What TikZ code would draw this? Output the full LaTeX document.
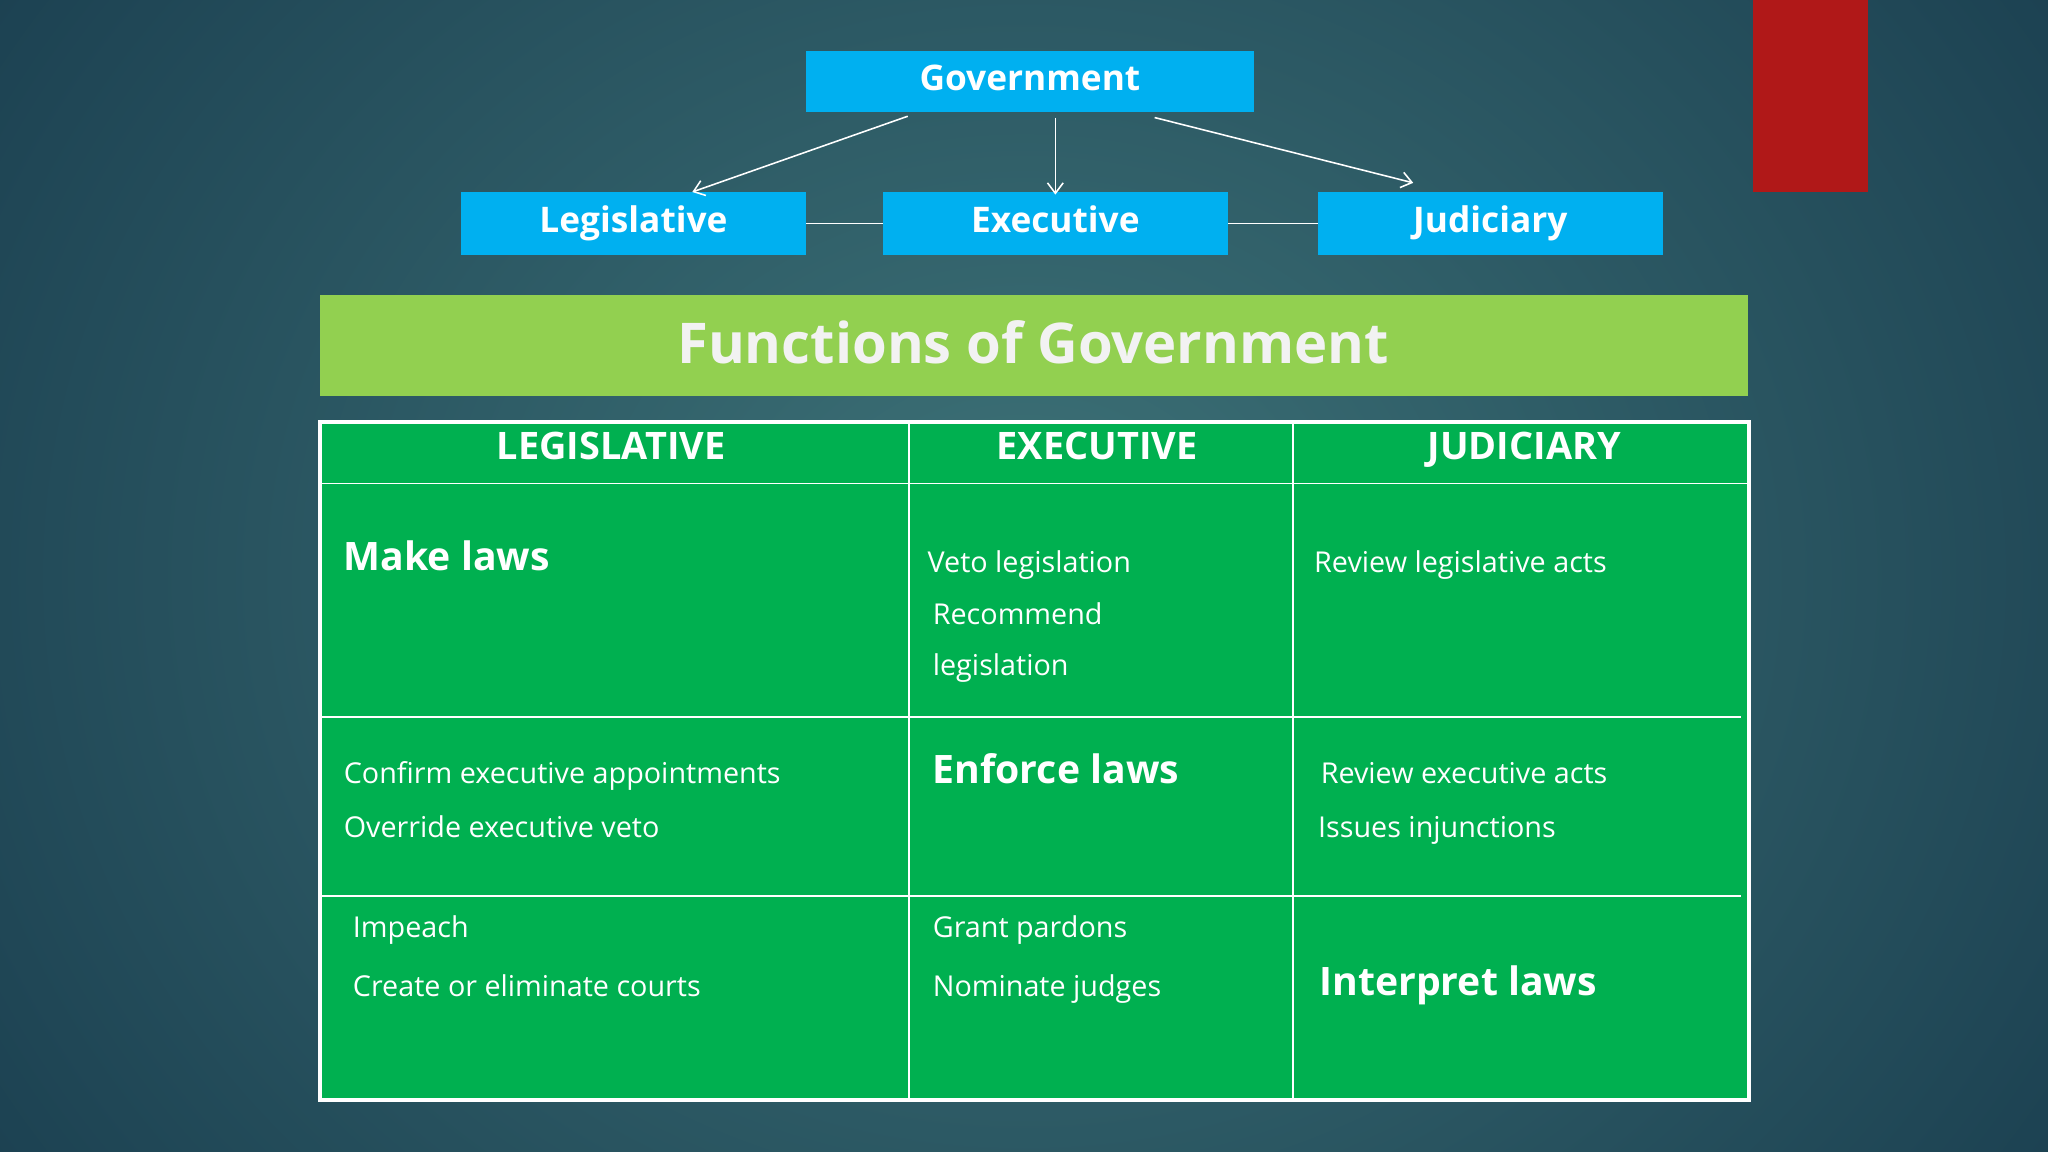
\documentclass[tikz,border=0pt]{standalone}
\usepackage{fontspec}
\setmainfont{Open Sans}
\usetikzlibrary{arrows.meta}
\definecolor{bgc}{HTML}{3E7378}
\definecolor{bge}{HTML}{173A4C}
\definecolor{blu}{HTML}{00B0F0}
\definecolor{lgr}{HTML}{92D050}
\definecolor{tgr}{HTML}{00B050}
\definecolor{red}{HTML}{B01818}
\tikzset{
 bbox/.style={fill=blu,text=white,font=\bfseries\fontsize{27}{30}\selectfont,inner sep=0,text height=18pt,text depth=4pt},
 hdr/.style={text=white,font=\fontsize{29}{32}\selectfont\bfseries,anchor=center,text height=20pt,text depth=4pt},
 cell/.style={text=white,font=\fontsize{22}{24}\selectfont,anchor=west,inner sep=0,text height=15pt,text depth=3pt},
 big/.style={text=white,font=\fontsize{30}{32}\selectfont\bfseries,anchor=west,inner sep=0,text height=20pt,text depth=4pt},
 conn/.style={white,line width=1.2pt,-{Straight Barb[length=8pt,width=12pt]}},
 grid/.style={white,line width=1pt}
}
\begin{document}
\begin{tikzpicture}[x=1pt,y=-1pt]
\useasboundingbox (0,0) rectangle (1568,882);
\begin{scope}
\clip (0,0) rectangle (1568,882);
\shade[inner color=bgc,outer color=bge] (-300,-500) rectangle (1868,1382);
\end{scope}
\fill[red] (1342,0) rectangle (1430,147);
\node[bbox,minimum width=343,minimum height=47] (gov) at (788.5,62.5) {Government};
\node[bbox,minimum width=264,minimum height=48] (leg) at (485,171) {Legislative};
\node[bbox,minimum width=264,minimum height=48] (exe) at (808,171) {Executive};
\node[bbox,minimum width=264,minimum height=48] (jud) at (1141,171) {Judiciary};
\draw[grid] (leg.east) -- (exe.west);
\draw[grid] (exe.east) -- (jud.west);
\coordinate (a1) at (695,89); \coordinate (a2) at (530,147);
\coordinate (b1) at (808,90); \coordinate (b2) at (808,149);
\coordinate (c1) at (884,90); \coordinate (c2) at (1082,140);
\draw[conn] (a1) -- (a2);
\draw[conn] (b1) -- (b2);
\draw[conn] (c1) -- (c2);
\fill[lgr] (245,226) rectangle (1338,303);
\node[text=white!90!gray,font=\fontsize{43}{46}\selectfont\bfseries] (title) at (791,262) {Functions of Government};
\fill[tgr] (245,323) rectangle (1339,842);
\draw[grid] (696,323) -- (696,842) (990,323) -- (990,842);
\draw[grid] (245,370) -- (1339,370);
\draw[grid] (245,549) -- (1333,549) (245,686) -- (1333,686);
\draw[white,line width=3pt] (245,323) rectangle (1339,842);
\node[hdr] (h1) at (468,344) {LEGISLATIVE};
\node[hdr] (h2) at (840,344) {EXECUTIVE};
\node[hdr] (h3) at (1167,344) {JUDICIARY};
\node[big] (t1) at (263,429) {Make laws};
\node[cell] (t2) at (710,432) {Veto legislation};
\node[cell] (t3) at (714,472) {Recommend};
\node[cell] (t4) at (714,511) {legislation};
\node[cell] (t5) at (1006,432) {Review legislative acts};
\node[cell] (t6) at (263,594) {Confirm executive appointments};
\node[cell] (t7) at (263,635) {Override executive veto};
\node[big] (t8) at (714,592) {Enforce laws};
\node[cell] (t9) at (1011,594) {Review executive acts};
\node[cell] (t10) at (1009,635) {Issues injunctions};
\node[cell] (t11) at (270,712) {Impeach};
\node[cell] (t12) at (270,757) {Create or eliminate courts};
\node[cell] (t13) at (714,712) {Grant pardons};
\node[cell] (t14) at (714,757) {Nominate judges};
\node[big] (t15) at (1010,754) {Interpret laws};
\end{tikzpicture}
\end{document}
